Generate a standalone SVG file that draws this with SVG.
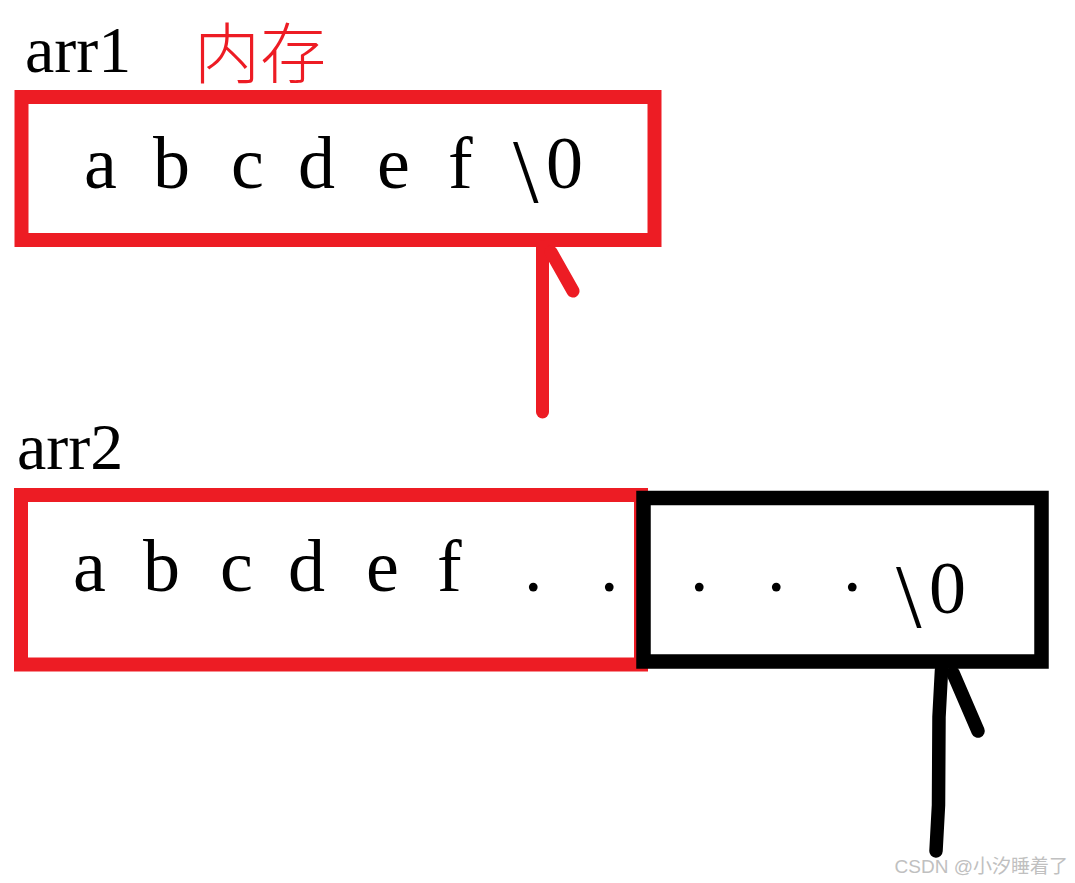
<svg xmlns="http://www.w3.org/2000/svg" width="1075" height="883" viewBox="0 0 1075 883">
<style>
.lbl{font-family:"Liberation Serif","Times New Roman",serif;font-size:66px;fill:#000}
.cell{font-family:"Liberation Serif","Times New Roman",serif;font-size:74px;fill:#000}
.bs{font-family:"Liberation Serif","Times New Roman",serif;font-size:92px;fill:#000}
.redbox{fill:none;stroke:#ed1c24;stroke-width:14}
.blkbox{fill:none;stroke:#000;stroke-width:14.5}
.red{stroke:#ed1c24;stroke-width:13;fill:none;stroke-linecap:round}
.blk{stroke:#000;stroke-width:13.5;fill:none;stroke-linecap:round}
</style>
<rect width="1075" height="883" fill="#fff"/>
<g id="arr1">
<text class="lbl" x="25" y="72">arr1</text>
<text x="194" y="78" font-family="'Noto Sans CJK SC',sans-serif" font-size="66" font-weight="300" fill="#ed1c24">内存</text>
<rect class="redbox" x="21.5" y="97" width="633" height="143"/>
<text class="cell" y="188"><tspan x="84">a</tspan><tspan x="153">b</tspan><tspan x="231">c</tspan><tspan x="298">d</tspan><tspan x="377">e</tspan><tspan x="448">f</tspan><tspan x="546">0</tspan></text>
<text class="bs" x="513" y="202">\</text>
</g>
<g id="arr2">
<text class="lbl" x="17" y="469">arr2</text>
<rect class="redbox" x="21" y="495" width="620" height="169.5"/>
<text class="cell" y="591"><tspan x="73">a</tspan><tspan x="143">b</tspan><tspan x="220">c</tspan><tspan x="288">d</tspan><tspan x="366">e</tspan><tspan x="437">f</tspan><tspan x="524">.</tspan><tspan x="600">.</tspan></text>
</g>
<g id="overflow">
<rect class="blkbox" x="643.5" y="498" width="398" height="163.5"/>
<text class="cell" y="591"><tspan x="690">.</tspan><tspan x="767">.</tspan><tspan x="843">.</tspan></text>
<text class="bs" x="896" y="627">\</text>
<text class="cell" x="929" y="613">0</text>
</g>
<g id="connectors">
<path class="red" d="M542.5 247 L542.5 412"/>
<path class="red" d="M551 252 L573 291"/>
<path class="blk" d="M941.5 670 L939 717 L938.5 805 L936 851"/>
<path class="blk" d="M953 673 L978 731"/>
</g>
<text x="1068" y="873" text-anchor="end" font-family="'Liberation Sans','Noto Sans CJK SC',sans-serif" font-size="19" fill="#c0c0c0">CSDN @小汐睡着了</text>
</svg>
